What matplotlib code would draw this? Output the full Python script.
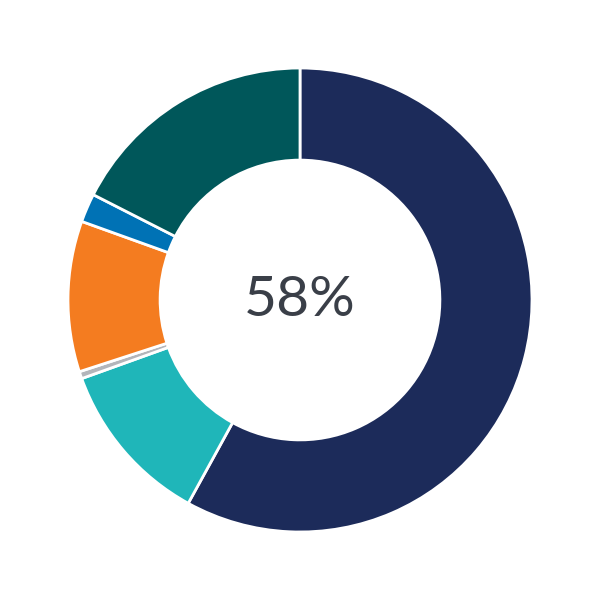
import matplotlib
matplotlib.use("Agg")
import matplotlib.pyplot as plt

labels = ["Navy", "Teal", "Gray", "Orange", "Blue", "Green"]
values = [58, 11.5, 0.5, 10.5, 2, 17.5]
colors = ["#1c2b5a", "#1fb6b9", "#b3b5ba", "#f47c20", "#0072b5", "#00575a"]
center_text = "58%"

fig = plt.figure(figsize=(6, 6), dpi=100)
ax = fig.add_axes([0, 0, 1, 1])

ax.pie(values, colors=colors, startangle=90, counterclock=False,
       radius=1.0,
       wedgeprops=dict(width=0.397, edgecolor="white", linewidth=2))

ax.text(0, 0, center_text, ha="center", va="center", fontsize=41,
        color="#3a3f48", family=["Lato", "DejaVu Sans"])

lim = 300 / 232
ax.set_xlim(-lim, lim)
ax.set_ylim(-lim, lim)
ax.set_aspect("equal")
ax.axis("off")

fig.savefig("out.png", dpi=100, facecolor="white")
